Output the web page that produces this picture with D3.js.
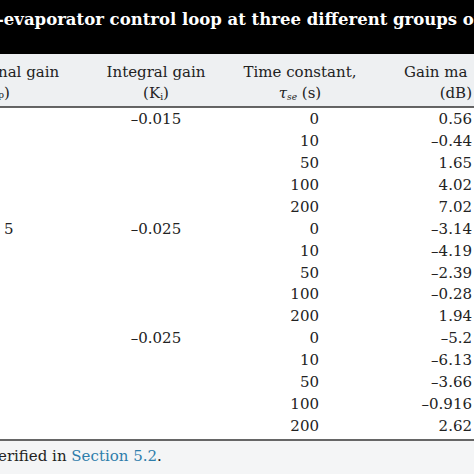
<!DOCTYPE html>
<html><head><meta charset="utf-8">
<script src="https://cdn.jsdelivr.net/npm/d3@7"></script>
<style>body{margin:0;background:#fff}</style>
</head><body><div id="tbl"></div>
<script>
// table content
var title = "-evaporator control loop at three different groups of tim";
var kpLabels = ["", "", "", "", "", "5", "", "", "", "", "", "", "", "", ""];
var kiLabels = ["–0.015", "", "", "", "", "–0.025", "", "", "", "", "–0.025", "", "", "", ""];
var timeConst = ["0", "10", "50", "100", "200", "0", "10", "50", "100", "200", "0", "10", "50", "100", "200"];
var gainMargin = ["0.56", "–0.44", "1.65", "4.02", "7.02", "–3.14", "–4.19", "–2.39", "–0.28", "1.94", "–5.2", "–6.13", "–3.66", "–0.916", "2.62"];

var W = 474, H = 474;
var svg = d3.select("#tbl").append("svg").attr("width", W).attr("height", H);
var font = "DejaVu Serif, Liberation Serif, serif";

svg.append("rect").attr("width", W).attr("height", H).attr("fill", "#ffffff");
svg.append("rect").attr("width", W).attr("height", 54).attr("fill", "#000");
svg.append("text").attr("x", -3).attr("y", 25).attr("fill", "#fff")
  .attr("font-family", font).attr("font-size", 16.5).attr("font-weight", 600).text(title);

// header band
svg.append("rect").attr("y", 54).attr("width", W).attr("height", 53).attr("fill", "#eef0f2");
svg.append("line").attr("x1", 0).attr("x2", W).attr("y1", 107).attr("y2", 107).attr("stroke", "#333").attr("stroke-width", 1.3);

function hdr(x, y, t, anchor) {
  return svg.append("text").attr("x", x).attr("y", y).attr("font-family", font)
    .attr("font-size", 15).attr("fill", "#222").attr("text-anchor", anchor || "middle").text(t);
}
hdr(-2, 77, "nal gain", "start");
hdr(-2, 98, "ₚ)", "start");
hdr(156, 77, "Integral gain");
var ki = hdr(156, 98, "(K");
ki.append("tspan").attr("font-size", 9).attr("dy", 2).text("i");
ki.append("tspan").attr("dy", -2).text(")");
hdr(300, 77, "Time constant,");
var tc = hdr(300, 98, "");
tc.append("tspan").attr("font-style", "italic").text("τ");
tc.append("tspan").attr("font-size", 9).attr("font-style", "italic").attr("dy", 2).text("se");
tc.append("tspan").attr("dy", -2).text(" (s)");
hdr(404, 77, "Gain ma", "start");
hdr(472, 98, "(dB)", "end");

// rows
var y = d3.scaleBand().domain(d3.range(timeConst.length)).range([108, 437]);
function col(data, x, anchor) {
  svg.selectAll(null).data(data).enter().append("text")
    .attr("x", x).attr("y", function(d, i) { return y(i) + y.bandwidth() / 2 + 5; })
    .attr("text-anchor", anchor).attr("font-family", font).attr("font-size", 15).attr("fill", "#222")
    .text(function(d) { return d; });
}
col(kpLabels, 4, "start");
col(kiLabels, 156, "middle");
col(timeConst, 319, "end");
col(gainMargin, 472, "end");

svg.append("line").attr("x1", 0).attr("x2", W).attr("y1", 440).attr("y2", 440).attr("stroke", "#333").attr("stroke-width", 1.3);
svg.append("rect").attr("y", 441).attr("width", W).attr("height", 33).attr("fill", "#f4f5f6");
var ft = svg.append("text").attr("x", -2).attr("y", 461).attr("font-family", font).attr("font-size", 15).attr("fill", "#222").text("erified in ");
ft.append("tspan").attr("fill", "#2e7dab").text("Section 5.2");
ft.append("tspan").text(".");
</script></body></html>
